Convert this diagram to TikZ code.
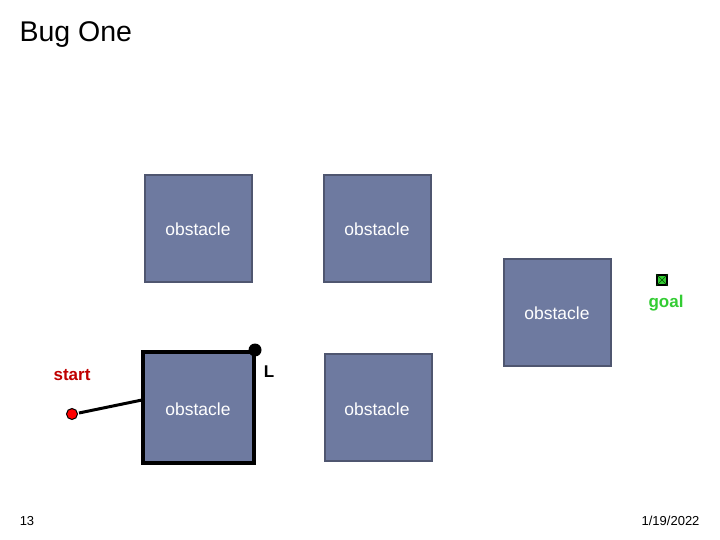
\documentclass[tikz,border=0pt]{standalone}
\usepackage{fontspec}
\setmainfont{Liberation Sans}
\definecolor{obfill}{HTML}{6E7AA0}
\definecolor{obedge}{HTML}{4F5670}
\definecolor{startred}{HTML}{C00000}
\definecolor{goalgreen}{HTML}{33CC33}
\begin{document}
\begin{tikzpicture}[x=1pt,y=-1pt,
  obst/.style={fill=obfill,draw=obedge,line width=2pt},
  obtext/.style={text=white,font=\fontsize{17.5}{20}\selectfont},
  lbl/.style={font=\bfseries\fontsize{17}{20}\selectfont}]
\useasboundingbox (0,0) rectangle (720,540);
\node[anchor=west,font=\fontsize{28.5}{32}\selectfont] (title) at (16,35) {Bug One};
\draw[obst] (145,175) rectangle (252,282);
\node[obtext] (o1) at (198,229) {obstacle};
\draw[obst] (324,175) rectangle (431,282);
\node[obtext] (o2) at (377,229) {obstacle};
\draw[obst] (504,259) rectangle (611,366);
\node[obtext] (o3) at (557,313) {obstacle};
\draw[fill=obfill,draw=black,line width=3.5pt] (143,352) rectangle (254,463);
\node[obtext] (o4) at (198,409) {obstacle};
\draw[obst] (325,354) rectangle (432,461);
\node[obtext] (o5) at (377,409) {obstacle};
\node[circle,fill=red,draw=black,line width=1pt,minimum size=11pt,inner sep=0] (start) at (72,414) {};
\coordinate (hit) at (142,400);
\draw[line width=3pt] (start.east) ++(1,-1) -- (hit);
\node[circle,fill=black,minimum size=13pt,inner sep=0] (L) at (255,350) {};
\node[lbl] (Ll) at (269,372) {L};
\node[lbl,text=startred] (st) at (72,375) {start};
\node[draw=black,fill=goalgreen,line width=2pt,minimum size=10pt,inner sep=0] (goal) at (662,280) {};
\draw[black!70!green,line width=0.6pt] (goal.north west) -- (goal.south east) (goal.north east) -- (goal.south west);
\node[lbl,text=goalgreen] (gl) at (666,303) {goal};
\node[font=\fontsize{13}{15}\selectfont] (pg) at (27,521) {13};
\node[anchor=east,font=\fontsize{13}{15}\selectfont] (dt) at (703,521) {1/19/2022};
\end{tikzpicture}
\end{document}
